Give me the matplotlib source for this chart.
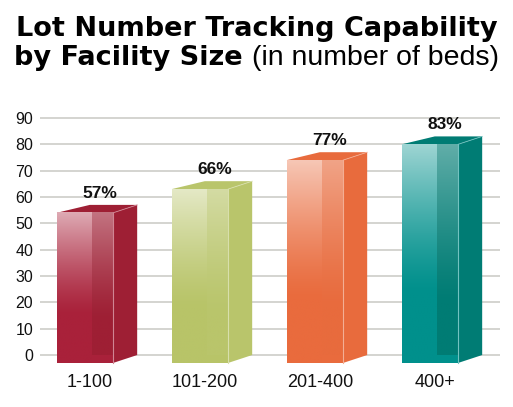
import numpy as np
import matplotlib
matplotlib.use("Agg")
import matplotlib.pyplot as plt
from matplotlib.patches import Polygon, Rectangle
from matplotlib import colors as mcolors

# data
categories = ['1-100', '101-200', '201-400', '400+']
values = [57, 66, 77, 83]
value_labels = ['57%', '66%', '77%', '83%']
base_colors = ['#A9213A', '#B8C468', '#E96B3D', '#00908C']
side_colors = ['#9E1F34', '#B9C56B', '#E86B3D', '#007C74']
yticks = list(range(0, 100, 10))

plt.rcParams['font.family'] = ['Liberation Sans', 'DejaVu Sans']

W, H = 513, 407
fig = plt.figure(figsize=(W / 100, H / 100), dpi=100)
# axes in pixel space: x 40..500, y 104.8..368.2
ax = fig.add_axes([40 / W, (H - 368.2) / H, 460 / W, (368.2 - 104.8) / H])
ax.set_xlim(-0.391, 3.609)
ax.set_ylim(-5, 95)
for s in ax.spines.values():
    s.set_visible(False)
ax.set_xticks([])
ax.set_yticks(yticks)
ax.set_yticklabels([str(t) for t in yticks], fontsize=11.5, color='#111111')
ax.tick_params(axis='y', length=0, pad=5)
for t in yticks:
    ax.axhline(t, color='#d4d4d0', lw=1.4, zorder=0)

w = 0.49      # front face width
dxl = 0.287   # depth offset of back-left
dxr = 0.209   # depth offset of back-right
dy = 3.0      # vertical depth
split = 0.304  # highlight stripe width


def lighten(c, f):
    c = np.array(mcolors.to_rgb(c))
    return c + (1 - c) * f


def grad_face(x0, x1, y0, y1, col, top_f, fade):
    # vertical gradient: light at top, base colour from 'fade' fraction down
    n = 200
    t = np.linspace(0, 1, n)[:, None]  # 0 = bottom, 1 = top
    rel = np.clip((t - (1 - fade)) / fade, 0, 1)
    f = top_f * rel ** 1.3
    base = np.array(mcolors.to_rgb(col))
    img = base + (1 - base) * f[..., None]
    img = np.repeat(img, 2, axis=1)
    ax.imshow(img, extent=(x0, x1, y0, y1), origin='lower', aspect='auto',
              interpolation='bilinear', zorder=3)


for i, v in enumerate(values):
    x0, x1 = i - w / 2, i + w / 2
    yb, yt = -dy, v - dy
    # side face
    side = Polygon([(x1, yb), (x1 + dxr, 0), (x1 + dxr, v), (x1, yt)],
                   closed=True, fc=side_colors[i], ec='none', zorder=2)
    ax.add_patch(side)
    # top face
    top = Polygon([(x0, yt), (x0 + dxl, v), (x1 + dxr, v), (x1, yt)],
                  closed=True, fc=side_colors[i], ec='none', zorder=2)
    ax.add_patch(top)
    # front face: base + lighter left stripe + darker right stripe
    grad_face(x0, x0 + split, yb, yt, base_colors[i], 0.62, 0.68)
    grad_face(x0 + split, x1, 0, yt, side_colors[i], 0.38, 0.75)
    ax.add_patch(Rectangle((x0 + split, yb), x1 - x0 - split, dy,
                           fc=base_colors[i], ec='none', zorder=3))
    # light edges
    edge = lighten(base_colors[i], 0.45)
    ax.plot([x1, x1], [yb, yt], color=edge, lw=0.8, zorder=4)
    ax.plot([x1, x1 + dxr], [yt, v], color=edge, lw=0.6, zorder=4)
    # value label
    ax.text(i + 0.13, v + 2.7, value_labels[i], ha='center', va='baseline',
            fontsize=12.5, fontweight='bold', color='#111111', zorder=5)
    # category label
    ax.text(i + 0.045, -7.2, categories[i], ha='center', va='top',
            fontsize=13, color='#111111', clip_on=False)

# title
bold_font = ['DejaVu Sans']
fig.text(0.5, 1 - 36.5 / H, 'Lot Number Tracking Capability', ha='center',
         va='baseline', fontsize=19.5, fontweight='bold', color='black',
         family=bold_font)
t1 = fig.text(0, 1 - 65 / H, 'by Facility Size ', ha='left', va='baseline',
              fontsize=19.5, fontweight='bold', color='black', family=bold_font)
t2 = fig.text(0, 1 - 65 / H, '(in number of beds)', ha='left', va='baseline',
              fontsize=20.5, color='black')
r = fig.canvas.get_renderer()
w1 = t1.get_window_extent(r).width
w2 = t2.get_window_extent(r).width
start = (W - (w1 + w2)) / 2
t1.set_x(start / W)
t2.set_x((start + w1) / W)

fig.savefig('out.png', dpi=100)
